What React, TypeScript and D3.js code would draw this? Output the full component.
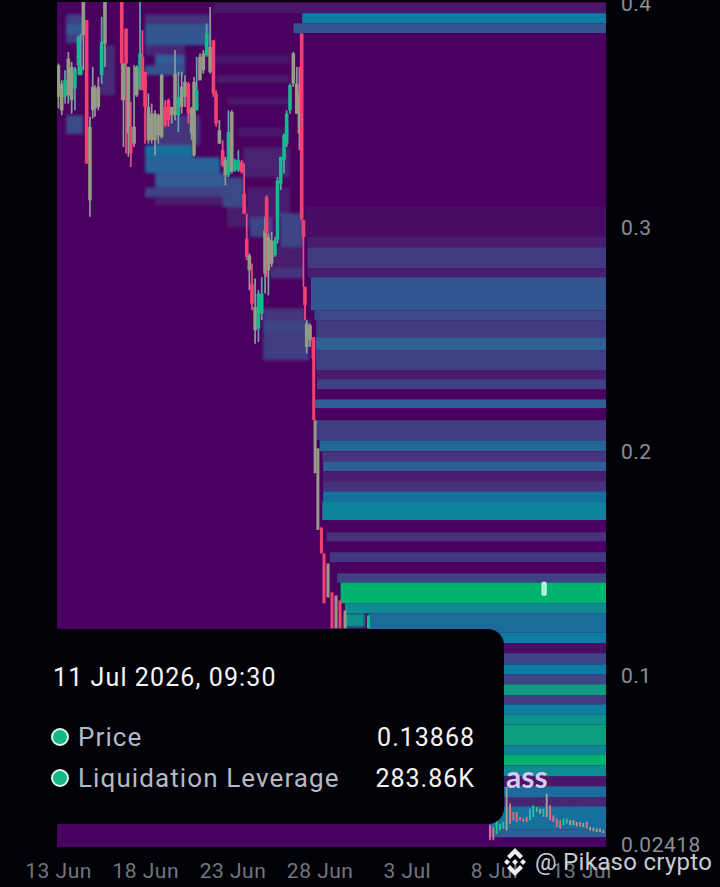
import { useEffect, useRef } from "react";
import * as d3 from "d3";

const WIDTH = 720;
const HEIGHT = 887;

// days are counted from 13 Jun 2026
const startDate = new Date(2026, 5, 13);
const dayToDate = (d: number) => new Date(startDate.getTime() + d * 864e5);

const priceTicks = [0.4, 0.3, 0.2, 0.1, 0.02418];
const dateTicks = [0, 5, 10, 15, 20, 25, 30];

// liquidation bands on the right of the price line
const bandEdges = [
  0.4004, 0.3959, 0.3914, 0.387, 0.3092, 0.2958, 0.2913, 0.2819, 0.2779, 0.2631, 0.2587, 0.2511, 0.2453, 0.2363,
  0.2323, 0.2278, 0.2233, 0.2193, 0.214, 0.205, 0.2001, 0.1956, 0.1912, 0.1867, 0.1822, 0.1778, 0.1693, 0.1639,
  0.1599, 0.155, 0.1505, 0.1456, 0.1415, 0.1322, 0.1277, 0.1192, 0.1143, 0.1098, 0.1049, 0.1004, 0.096, 0.091,
  0.087, 0.0825, 0.0781, 0.0687, 0.0647, 0.0597, 0.0548, 0.0504, 0.0454, 0.0414, 0.0311, 0.0276, 0.0231,
];
const bandLevels = [
  0.08, 0.55, 0.36, 0, 0.05, 0.12, 0.25, 0.12, 0.38, 0.32, 0.25, 0.42, 0.28, 0.12, 0.28, 0, 0.42, 0, 0.26, 0.45,
  0.22, 0.42, 0.12, 0.2, 0.5, 0.62, 0, 0.2, 0.02, 0.24, 0, 0.28, 1, 0.68, 0.48, 0.55, 0.05, 0.3, 0.55, 0.3, 0.8,
  0.25, 0.58, 0.72, 0.82, 0.62, 0.98, 0.68, 0.08, 0.48, 0.15, 0.5, 0.42, 0.02,
];
const bandStarts = [
  8.9, 14, 13.5, 14, 14.16, 14.3, 14.3, 14.3, 14.5, 14.7, 14.8, 14.8, 14.8, 14.85, 14.85, 14.75, 14.75, 14.75, 14.8,
  15, 15.15, 15.2, 15.2, 15.2, 15.2, 15.15, 15.15, 15.4, 15.3, 15.6, 15.9, 16, 16.2, 16.45, 17.8, 18, 18, 18, 18, 18,
  18, 18, 18, 18, 18, 18, 18, 18, 18, 18, 18, 24.7, 24.7, 0,
];

// older liquidity patches: start day, end day, top price, bottom price, level
const patches: number[][] = [
  [0.46, 1.43, 0.3954, 0.391, 0.28],
  [0.46, 1.43, 0.391, 0.3865, 0.4],
  [0.46, 1.43, 0.3865, 0.3825, 0.28],
  [0.46, 1.43, 0.3503, 0.3418, 0.32],
  [2.41, 3.27, 0.3816, 0.3592, 0.18],
  [4.99, 8.72, 0.3954, 0.391, 0.2],
  [4.99, 8.72, 0.391, 0.3816, 0.38],
  [4.99, 7.28, 0.3816, 0.3771, 0.16],
  [5.56, 7.28, 0.3771, 0.3726, 0.42],
  [4.99, 7.28, 0.3726, 0.3682, 0.36],
  [5.56, 8.14, 0.3503, 0.3369, 0.22],
  [4.99, 7.74, 0.3369, 0.3315, 0.5],
  [4.99, 9.29, 0.3315, 0.3244, 0.44],
  [5.56, 9.69, 0.3244, 0.3181, 0.4],
  [4.99, 10.61, 0.3181, 0.3136, 0.28],
  [5.56, 10.61, 0.3136, 0.3101, 0.12],
  [9.46, 10.61, 0.3226, 0.3092, 0.32],
  [9.69, 11.01, 0.3092, 0.3002, 0.12],
  [8.89, 13.3, 0.3771, 0.3735, 0.08],
  [9.12, 13.3, 0.3682, 0.3646, 0.1],
  [9.69, 13.3, 0.3583, 0.3548, 0.08],
  [10.26, 13.3, 0.3449, 0.3405, 0.08],
  [10.61, 13.3, 0.336, 0.3226, 0.14],
  [10.84, 13.3, 0.3181, 0.3047, 0.12],
  [11.01, 12.33, 0.3047, 0.2958, 0.3],
  [12.73, 14.05, 0.3065, 0.2913, 0.3],
  [12.33, 14.05, 0.2913, 0.2823, 0.1],
  [12.16, 14.05, 0.2823, 0.2774, 0.22],
  [11.75, 14.16, 0.264, 0.2587, 0.22],
  [11.75, 14.4, 0.2587, 0.2528, 0.3],
  [11.75, 14.4, 0.2528, 0.2408, 0.26],
  [16.4, 17.6, 0.1277, 0.1215, 0.72],
  [25.9, 27.2, 0.0504, 0.0414, 0.28],
  [27.2, 28.1, 0.0454, 0.0414, 0.42],
  [28.5, 29.5, 0.0414, 0.0365, 0.35],
  [29.8, 30.6, 0.0414, 0.0311, 0.42],
  [30.6, 31.42, 0.0414, 0.0311, 0.65],
];

const candleDays = [
  0.02, 0.21, 0.4, 0.59, 0.78, 0.97, 1.17, 1.3, 1.45, 1.64, 1.83, 1.99, 2.12, 2.31, 2.5, 2.69, 3.65, 3.75, 3.9, 4.03,
  4.17, 4.36, 4.51, 4.7, 4.84, 4.99, 5.18, 5.37, 5.56, 5.75, 5.94, 6.14, 6.33, 6.52, 6.71, 6.9, 7.09, 7.28, 7.47,
  7.66, 7.8, 7.95, 8.14, 8.33, 8.52, 8.72, 8.91, 9.06, 9.25, 9.44, 9.59, 9.77, 9.96, 10.15, 10.34, 10.53, 10.67,
  10.82, 10.97, 11.12, 11.3, 11.49, 11.68, 11.87, 11.96, 12.06, 12.25, 12.44, 12.58, 12.77, 12.96, 13.11, 13.3,
  13.49, 13.69, 13.84, 13.97, 14.07, 14.16, 14.26, 14.45, 14.64,
];
const candleHigh = [
  0.3734, 0.3659, 0.3704, 0.3786, 0.3741, 0.3719, 0.3861, 0.3868, 0.401, 0.3928, 0.3496, 0.3719, 0.3637, 0.3674,
  0.3943, 0.401, 0.401, 0.3734, 0.389, 0.3719, 0.3563, 0.3726, 0.3726, 0.401, 0.3883, 0.3697, 0.36, 0.3555, 0.3525,
  0.351, 0.3689, 0.357, 0.3577, 0.354, 0.3794, 0.3697, 0.3697, 0.3682, 0.3652, 0.354, 0.3674, 0.3764, 0.3779,
  0.3794, 0.3913, 0.3987, 0.3838, 0.3615, 0.3481, 0.3391, 0.3317, 0.3525, 0.3525, 0.3309, 0.3347, 0.3302, 0.3287,
  0.3063, 0.2885, 0.284, 0.2773, 0.2721, 0.278, 0.3049, 0.3145, 0.2974, 0.2981, 0.2959, 0.3227, 0.3317, 0.3421,
  0.3525, 0.3644, 0.3786, 0.3719, 0.3719, 0.3868, 0.3034, 0.2736, 0.2587, 0.2572, 0.2512,
];
const candleLow = [
  0.3533, 0.3503, 0.3555, 0.3555, 0.351, 0.3525, 0.3682, 0.3682, 0.3704, 0.3287, 0.3049, 0.3488, 0.3496, 0.3525,
  0.3644, 0.3719, 0.357, 0.3361, 0.3332, 0.3317, 0.3272, 0.3361, 0.3585, 0.3615, 0.3615, 0.3376, 0.3376, 0.3376,
  0.3324, 0.3376, 0.3399, 0.3451, 0.3451, 0.3466, 0.3481, 0.3428, 0.351, 0.354, 0.3466, 0.3391, 0.3317, 0.3525,
  0.3659, 0.3689, 0.3764, 0.3689, 0.3585, 0.3451, 0.3376, 0.3272, 0.319, 0.3227, 0.3242, 0.325, 0.325, 0.3242,
  0.3063, 0.2855, 0.2721, 0.2631, 0.2482, 0.249, 0.2587, 0.2706, 0.278, 0.2698, 0.2825, 0.287, 0.2929, 0.3168,
  0.3242, 0.3361, 0.351, 0.363, 0.351, 0.3347, 0.3034, 0.2736, 0.2587, 0.2438, 0.2467, 0.2408,
];
const candleTop = [
  0.3726, 0.3644, 0.3659, 0.3756, 0.3719, 0.3712, 0.3853, 0.3726, 0.401, 0.3928, 0.3451, 0.363, 0.3622, 0.363,
  0.3831, 0.401, 0.401, 0.3734, 0.389, 0.3719, 0.3451, 0.3451, 0.3719, 0.3779, 0.3764, 0.3697, 0.354, 0.351, 0.351,
  0.3503, 0.3682, 0.354, 0.357, 0.354, 0.3689, 0.3585, 0.363, 0.3652, 0.3644, 0.3533, 0.3652, 0.3615, 0.3764,
  0.3779, 0.3868, 0.3808, 0.3838, 0.36, 0.3436, 0.3347, 0.3302, 0.3428, 0.3518, 0.3302, 0.3302, 0.3294, 0.3153,
  0.2952, 0.2877, 0.275, 0.2646, 0.2706, 0.2706, 0.2989, 0.3138, 0.2959, 0.2944, 0.2944, 0.3212, 0.3317, 0.3414,
  0.351, 0.3637, 0.3779, 0.3644, 0.36, 0.3868, 0.3034, 0.2736, 0.2572, 0.2564, 0.2505,
];
const candleBottom = [
  0.3585, 0.3525, 0.3585, 0.3592, 0.357, 0.3622, 0.3726, 0.3682, 0.3861, 0.3287, 0.3123, 0.3525, 0.3533, 0.354,
  0.3682, 0.3823, 0.3734, 0.357, 0.3734, 0.3421, 0.3332, 0.3376, 0.3592, 0.3622, 0.3615, 0.354, 0.3391, 0.3391,
  0.3391, 0.3414, 0.3406, 0.3458, 0.3481, 0.3503, 0.3503, 0.3503, 0.354, 0.3585, 0.351, 0.3421, 0.3324, 0.3525,
  0.3659, 0.3704, 0.3771, 0.3697, 0.36, 0.3466, 0.3376, 0.3279, 0.3235, 0.3235, 0.325, 0.3257, 0.3257, 0.325,
  0.3063, 0.287, 0.281, 0.2661, 0.2542, 0.2549, 0.2616, 0.2795, 0.2974, 0.281, 0.284, 0.2877, 0.2944, 0.3197,
  0.3302, 0.3376, 0.3525, 0.3644, 0.351, 0.3421, 0.3041, 0.2959, 0.2654, 0.2467, 0.2497, 0.2415,
];
// g up, r down, m blended
const candleTones = "mmgmmgggmrmmmmgmrmrmrmmgrrmmmmmrrmmgmmrmmgmmgmrrmrmgmggrrrmrmggmrmmgggggg" + "mmmrrrmmr";

const tailDays = [
  14.66, 14.74, 14.9, 15.1, 15.25, 15.48, 15.71, 15.94, 16.17, 16.46, 17.8, 24.77, 24.96, 25.15, 25.34, 25.53, 25.72,
  25.92, 26.11, 26.3, 26.49, 26.68, 26.87, 27.06, 27.25, 27.45, 27.64, 27.83, 28.02, 28.21, 28.4, 28.6, 28.79, 28.98,
  29.17, 29.36, 29.55, 29.74, 29.93, 30.12, 30.32, 30.51, 30.7, 30.89, 31.08, 31.27,
];
const tailHigh = [
  0.2511, 0.214, 0.2014, 0.1661, 0.1545, 0.15, 0.1371, 0.1357, 0.1335, 0.129, 0.1268, 0.033, 0.0322, 0.0352, 0.0337,
  0.0345, 0.0501, 0.0427, 0.0389, 0.0389, 0.0367, 0.036, 0.0367, 0.0404, 0.0419, 0.0412, 0.0404, 0.0404, 0.0471,
  0.0419, 0.0374, 0.036, 0.0352, 0.036, 0.036, 0.0352, 0.0352, 0.0345, 0.0345, 0.034, 0.0345, 0.0322, 0.0319, 0.0315,
  0.0315, 0.031,
];
const tailLow = [
  0.214, 0.1903, 0.165, 0.1545, 0.1322, 0.1348, 0.121, 0.121, 0.121, 0.121, 0.121, 0.0263, 0.0263, 0.0292, 0.0307,
  0.0315, 0.0307, 0.0337, 0.0352, 0.0345, 0.0352, 0.0345, 0.0345, 0.0352, 0.0367, 0.0389, 0.0382, 0.0367, 0.0367,
  0.0352, 0.0345, 0.0322, 0.0315, 0.033, 0.0337, 0.033, 0.033, 0.0325, 0.0325, 0.0322, 0.0315, 0.0307, 0.0304, 0.03,
  0.03, 0.0295,
];
const tailTones = "rmmrrmrmrmgrrgggmrrrrrrgggmgmrrrrggmmmrmrmmmmm";

const markerDay = 27.87;
const markerPrice = 0.13868;

const tooltipTitle = "11 Jul 2026, 09:30";
const tooltipLabels = ["Price", "Liquidation Leverage"];
const tooltipValues = ["0.13868", "283.86K"];

const toneFill: Record<string, string> = { g: "#12ba8c", r: "#f4406f", m: "#959c86" };
const toneWick: Record<string, string> = { g: "#5fa3ad", r: "#ec4f7e", m: "#8c9a9c" };
const tailFill: Record<string, string> = { g: "#2fc29a", r: "#ee6a80", m: "#a8a58e" };

function App() {
  const svgRef = useRef<SVGSVGElement>(null);

  useEffect(() => {
    if (!svgRef.current) return;
    const svg = d3.select(svgRef.current);
    svg.selectAll("*").remove();

    const plot = { left: 57, right: 606, top: 2, bottom: 847 };
    const x = d3.scaleTime().domain([dayToDate(-0.06), dayToDate(31.42)]).range([plot.left, plot.right]);
    const y = d3.scaleLinear().domain([0.4, 0.02418]).range([4, 845]);
    const color = d3
      .scaleLinear<string>()
      .domain([0, 0.12, 0.25, 0.42, 0.55, 0.65, 0.8, 1])
      .range(["#4a005f", "#4a1f6e", "#423a80", "#2f5f95", "#0c7ba3", "#0a8896", "#0a9c80", "#00b36e"]);

    svg
      .append("rect")
      .attr("width", WIDTH)
      .attr("height", HEIGHT)
      .attr("fill", "#010208");

    const defs = svg.append("defs");
    defs
      .append("clipPath")
      .attr("id", "plot-clip")
      .append("rect")
      .attr("x", plot.left)
      .attr("y", plot.top)
      .attr("width", plot.right - plot.left)
      .attr("height", plot.bottom - plot.top);
    defs.append("filter").attr("id", "soft").append("feGaussianBlur").attr("stdDeviation", 0.7);
    defs.append("filter").attr("id", "softer").append("feGaussianBlur").attr("stdDeviation", 1.6);

    const g = svg.append("g").attr("clip-path", "url(#plot-clip)");

    g.append("rect")
      .attr("x", plot.left)
      .attr("y", plot.top)
      .attr("width", plot.right - plot.left)
      .attr("height", plot.bottom - plot.top)
      .attr("fill", color(0));

    const patchG = g.append("g").attr("filter", "url(#softer)");
    patchG
      .selectAll(".patch")
      .data(patches)
      .enter()
      .append("rect")
      .attr("class", "patch")
      .attr("x", (d) => x(dayToDate(d[0])))
      .attr("y", (d) => y(d[2]))
      .attr("width", (d) => x(dayToDate(d[1])) - x(dayToDate(d[0])))
      .attr("height", (d) => y(d[3]) - y(d[2]))
      .attr("fill", (d) => color(d[4]));

    const bandG = g.append("g").attr("filter", "url(#soft)");
    bandG
      .selectAll(".band")
      .data(bandLevels)
      .enter()
      .append("rect")
      .attr("class", "band")
      .attr("x", (_, i) => x(dayToDate(bandStarts[i])))
      .attr("y", (_, i) => y(bandEdges[i]))
      .attr("width", (_, i) => plot.right + 6 - x(dayToDate(bandStarts[i])))
      .attr("height", (_, i) => y(bandEdges[i + 1]) - y(bandEdges[i]))
      .attr("fill", (d) => color(d));

    const candles = g.append("g").attr("filter", "url(#soft)");
    candleDays.forEach((day, i) => {
      const cx = x(dayToDate(day));
      const tone = candleTones[i] || "m";
      candles
        .append("line")
        .attr("x1", cx)
        .attr("x2", cx)
        .attr("y1", y(candleHigh[i]))
        .attr("y2", y(candleLow[i]))
        .attr("stroke", toneWick[tone])
        .attr("stroke-width", 1.7);
      candles
        .append("rect")
        .attr("x", cx - 1.8)
        .attr("y", y(candleTop[i]))
        .attr("width", 3.6)
        .attr("height", Math.max(1, y(candleBottom[i]) - y(candleTop[i])))
        .attr("fill", toneFill[tone]);
    });

    tailDays.forEach((day, i) => {
      const cx = x(dayToDate(day));
      candles
        .append("line")
        .attr("x1", cx)
        .attr("x2", cx)
        .attr("y1", y(tailHigh[i]))
        .attr("y2", y(tailLow[i]))
        .attr("stroke", day > 20 ? tailFill[tailTones[i] || "m"] : toneFill[tailTones[i] || "m"])
        .attr("stroke-width", day > 20 ? 1.8 : 3);
    });

    svg
      .append("rect")
      .attr("x", x(dayToDate(markerDay)) - 2)
      .attr("y", y(markerPrice) - 6.5)
      .attr("width", 4)
      .attr("height", 13)
      .attr("rx", 1)
      .attr("fill", "#a8f0d4")
      .attr("stroke", "#eafff6")
      .attr("stroke-width", 1);

    const yAxis = d3
      .axisRight(y)
      .tickValues(priceTicks)
      .tickSize(0)
      .tickFormat((d) => String(d));
    const yG = svg.append("g").attr("transform", "translate(621,0)").call(yAxis);
    yG.select(".domain").remove();
    yG.selectAll("text")
      .attr("x", 0)
      .style("fill", "#8b8f96")
      .style("font-family", "Roboto, sans-serif")
      .style("font-size", "21px")
      .style("letter-spacing", "0.5px");

    const xAxis = d3
      .axisBottom(x)
      .tickValues(dateTicks.map(dayToDate))
      .tickSize(0)
      .tickFormat((d) => d3.timeFormat("%-d %b")(d as Date));
    const xG = svg.append("g").attr("transform", "translate(0,863)").call(xAxis);
    xG.select(".domain").remove();
    xG.selectAll("text")
      .attr("y", 0)
      .attr("dy", "0.71em")
      .style("fill", "#71767f")
      .style("font-family", "Roboto, sans-serif")
      .style("font-size", "21px")
      .style("letter-spacing", "0.5px");

    // tooltip card
    const tip = svg.append("g");
    tip
      .append("rect")
      .attr("x", 30)
      .attr("y", 629)
      .attr("width", 474)
      .attr("height", 195)
      .attr("rx", 16)
      .attr("fill", "#010208");
    tip
      .append("text")
      .attr("x", 53)
      .attr("y", 686)
      .attr("fill", "#f4f5f6")
      .style("font-family", "Roboto, sans-serif")
      .style("font-size", "25px")
      .style("letter-spacing", "1.1px")
      .text(tooltipTitle);

    tooltipLabels.forEach((label, i) => {
      const rowY = 737 + i * 41;
      tip
        .append("circle")
        .attr("cx", 60)
        .attr("cy", rowY)
        .attr("r", 8)
        .attr("fill", "#12b886")
        .attr("stroke", "#dff5ec")
        .attr("stroke-width", 2);
      tip
        .append("text")
        .attr("x", 78)
        .attr("y", rowY + 9)
        .attr("fill", "#b4bac5")
        .style("font-family", "Roboto, sans-serif")
        .style("font-size", "26px")
        .style("letter-spacing", "1.1px")
        .text(label);
      tip
        .append("text")
        .attr("x", 475)
        .attr("y", rowY + 9)
        .attr("text-anchor", "end")
        .attr("fill", "#f4f5f6")
        .style("font-family", "Roboto, sans-serif")
        .style("font-size", "25px")
        .style("letter-spacing", "1px")
        .text(tooltipValues[i]);
    });

    // watermark
    svg
      .append("text")
      .attr("x", 506)
      .attr("y", 788)
      .attr("fill", "#d8c8ee")
      .style("font-family", "Lato, sans-serif")
      .style("font-weight", 700)
      .style("font-size", "30px")
      .text("ass");

    const logo = svg.append("g").attr("transform", "translate(515,862)").attr("fill", "#eceef0");
    const logoShapes = [
      "M0,-14L8,-6L5,-3L0,-8L-5,-3L-8,-6Z",
      "M0,14L8,6L5,3L0,8L-5,3L-8,6Z",
      "M-11,0L-8,-3L-5,0L-8,3Z",
      "M11,0L8,-3L5,0L8,3Z",
      "M0,-3L3,0L0,3L-3,0Z",
    ];
    logo
      .selectAll("path")
      .data(logoShapes)
      .enter()
      .append("path")
      .attr("d", (d) => d);

    svg
      .append("text")
      .attr("x", 535)
      .attr("y", 870)
      .attr("fill", "#dfe1e4")
      .attr("fill-opacity", 0.92)
      .style("font-family", "Roboto, sans-serif")
      .style("font-size", "24px")
      .style("letter-spacing", "0.3px")
      .text("@ Pikaso crypto");
  }, []);

  return (
    <svg
      ref={svgRef}
      width={WIDTH}
      height={HEIGHT}
      style={{ position: "absolute", left: 0, top: 0, display: "block" }}
    ></svg>
  );
}

export default App;
